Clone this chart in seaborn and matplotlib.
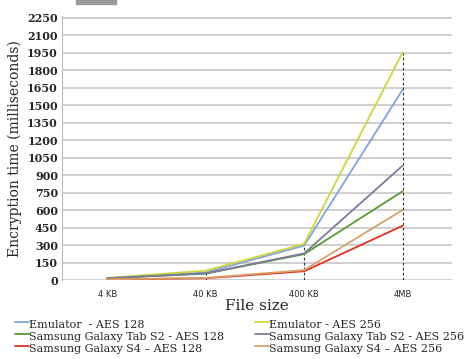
import pandas as pd
import seaborn as sns
import matplotlib.pyplot as plt
from matplotlib.patches import Rectangle
from matplotlib.lines import Line2D

# file sizes on the x axis
sizes = ['4 KB', '40 KB', '400 KB', '4MB']

# encryption time in ms
emu_128 = [15, 65, 295, 1630]
emu_256 = [18, 80, 310, 1950]
tab_128 = [15, 55, 222, 760]
tab_256 = [15, 57, 228, 980]
s4_128 = [5, 15, 75, 465]
s4_256 = [6, 18, 85, 600]

names = ['Emulator  - AES 128', 'Emulator - AES 256',
         'Samsung Galaxy Tab S2 - AES 128', 'Samsung Galaxy Tab S2 - AES 256',
         'Samsung Galaxy S4 \u2013 AES 128', 'Samsung Galaxy S4 \u2013 AES 256']
series = [emu_128, emu_256, tab_128, tab_256, s4_128, s4_256]
colors = ['#7fa6dc', '#cdd63c', '#549b32', '#7d7a9c', '#e0331f', '#d9a06c']

rows = []
for n, vals in zip(names, series):
    for i, v in enumerate(vals):
        rows.append({'series': n, 'pos': i, 'time': v})
df = pd.DataFrame(rows)

sns.set_style('white')
plt.rcParams['font.family'] = ['DejaVu Serif']

W, H = 474, 359
fig = plt.figure(figsize=(W / 100, H / 100), dpi=100)
ax = fig.add_axes([0.131, 0.22, 0.822, 0.735])

# drop lines from the highest value at each size
for i in range(len(sizes)):
    top = max(s[i] for s in series)
    if i >= 1:
        ax.plot([i, i], [0, top], color='#333333', lw=0.8, ls=(0, (2.5, 2)), zorder=1)

sns.lineplot(data=df, x='pos', y='time', hue='series', hue_order=names,
             palette=colors, lw=1.3, ax=ax, legend=False, zorder=3)

ax.set_xlim(-0.46, 3.5)
ax.set_ylim(0, 2262)
ax.set_yticks(range(0, 2251, 150))
ax.set_yticklabels([str(v) for v in range(0, 2251, 150)], fontweight='bold', fontsize=8)
ax.set_xticks(range(len(sizes)))
ax.set_xticklabels(sizes, family='DejaVu Sans', fontsize=6)
ax.tick_params(axis='both', length=0, pad=3)
ax.tick_params(axis='x', pad=7)
ax.yaxis.grid(True, color='#cccccc', lw=1.3)
ax.set_axisbelow(True)
for s in ['top', 'right', 'bottom']:
    ax.spines[s].set_visible(False)
ax.spines['left'].set_color('#bbbbbb')
ax.set_ylabel('Encryption time (milliseconds)', fontsize=10, labelpad=4)
ax.set_xlabel('File size', fontsize=11, labelpad=0)

# legend drawn by hand: two columns, tight rows like the original
col_x = [15, 255]
row_y = [325, 337, 349]
for k, (n, c) in enumerate(zip(names, colors)):
    cx = col_x[k % 2]
    ry = row_y[k // 2]
    fig.add_artist(Line2D([cx / W, (cx + 14) / W], [1 - (ry - 3) / H] * 2,
                          color=c, lw=1.3))
    fig.text((cx + 14) / W, 1 - ry / H, n, fontsize=8, va='center', ha='left')

# small grey tab at the top
fig.patches.append(Rectangle((0.16, 0.99), 0.085, 0.02, transform=fig.transFigure,
                             color='#9a9a9a', zorder=0))

fig.savefig('out.png', dpi=100)
